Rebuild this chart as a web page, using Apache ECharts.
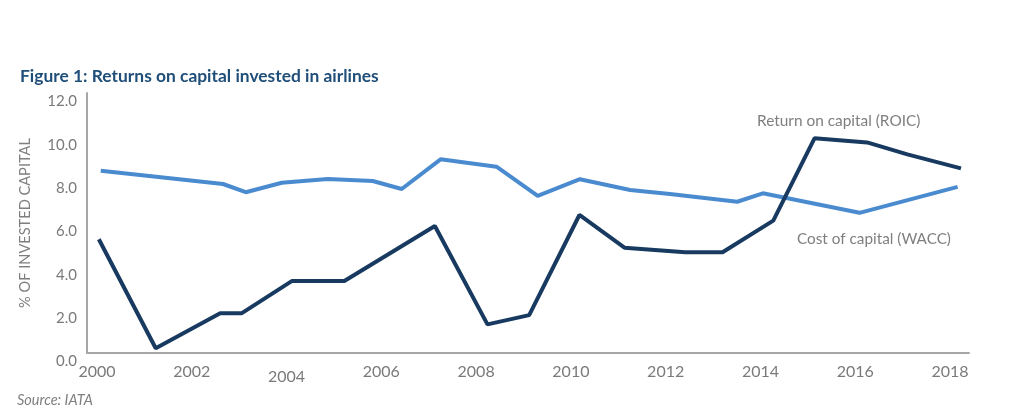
<!DOCTYPE html>
<html>
<head>
<meta charset="utf-8">
<script src="https://cdn.jsdelivr.net/npm/echarts@6/dist/echarts.min.js"></script>
<style>
  html, body { margin: 0; padding: 0; background: #fff; }
  #main { width: 1024px; height: 416px; }
</style>
</head>
<body>
<div id="main"></div>
<script>
// x positions are fractional years, as the lines are drawn between the labels
var waccYears = [2000.08, 2002.66, 2003.14, 2003.9, 2004.87, 2005.82, 2006.43, 2007.25, 2008.43, 2008.78, 2009.3, 2010.19, 2011.25, 2012.09, 2013.51, 2014.05, 2016.09, 2018.16];
var waccValues = [8.41, 7.8, 7.42, 7.86, 8.03, 7.94, 7.57, 8.94, 8.6, 8.06, 7.25, 8.02, 7.52, 7.34, 6.98, 7.37, 6.47, 7.67];

var roicYears = [2000.04, 2001.24, 2002.6, 2003.05, 2004.11, 2005.22, 2007.13, 2008.24, 2009.12, 2010.18, 2011.13, 2012.41, 2013.2, 2014.27, 2015.14, 2016.25, 2017.1, 2018.23];
var roicValues = [5.25, 0.22, 1.83, 1.83, 3.32, 3.32, 5.86, 1.32, 1.75, 6.37, 4.86, 4.65, 4.65, 6.11, 9.91, 9.72, 9.17, 8.52];

var yearTicks = [2000, 2002, 2004, 2006, 2008, 2010, 2012, 2014, 2016, 2018];

function pairs(xs, ys) {
    return xs.map(function (x, i) { return [x, ys[i]]; });
}

var grey = '#7f7f7f';
var labelGrey = '#7a7a7a';
var font = 'Lato';

var chart = echarts.init(document.getElementById('main'));
chart.setOption({
    animation: false,
    title: [
        {
            text: 'Figure 1: Returns on capital invested in airlines',
            left: 15, top: 63,
            textStyle: { color: '#1f4e79', fontFamily: font, fontWeight: 'bold', fontSize: 17.4 }
        },
        {
            text: 'Source: IATA',
            left: 12, top: 388,
            textStyle: { color: grey, fontFamily: font, fontStyle: 'italic', fontWeight: 'normal', fontSize: 14.5 }
        },
        {
            text: 'Return on capital (ROIC)',
            left: 752, top: 109,
            textStyle: { color: grey, fontFamily: font, fontWeight: 'normal', fontSize: 15.4 }
        },
        {
            text: 'Cost of capital (WACC)',
            left: 792, top: 227,
            textStyle: { color: grey, fontFamily: font, fontWeight: 'normal', fontSize: 15.3 }
        }
    ],
    grid: { left: 87, right: 55, top: 93, bottom: 63 },
    xAxis: {
        type: 'value',
        min: 1999.79,
        max: 2018.4,
        axisLine: { lineStyle: { color: '#a6a6a6', width: 2 } },
        axisTick: { show: false },
        splitLine: { show: false },
        axisLabel: {
            customValues: yearTicks,
            margin: 11,
            color: labelGrey,
            fontFamily: font,
            fontSize: 16,
            formatter: function (v) {
                // the 2004 label sits a little lower in the original
                return v === 2004 ? '{low|' + v + '}' : String(v);
            },
            rich: { low: { padding: [5, 0, 0, 0], fontFamily: font, fontSize: 16, color: labelGrey } }
        }
    },
    yAxis: {
        type: 'value',
        min: 0,
        max: 12,
        interval: 2,
        name: '% OF INVESTED CAPITAL',
        nameLocation: 'middle',
        nameRotate: 90,
        nameGap: 54,
        nameTextStyle: { color: grey, fontFamily: font, fontSize: 14.6 },
        axisLine: { show: true, lineStyle: { color: '#a6a6a6', width: 2 } },
        axisTick: { show: false },
        splitLine: { show: false },
        axisLabel: {
            margin: 10,
            formatter: function (v) { return '{v|' + v.toFixed(1) + '}'; },
            // labels sit slightly below their values in the original
            rich: { v: { padding: [17, 0, 0, 0], fontFamily: font, fontSize: 15, color: labelGrey } }
        }
    },
    series: [
        {
            name: 'Cost of capital (WACC)',
            type: 'line',
            data: pairs(waccYears, waccValues),
            showSymbol: false,
            lineStyle: { color: '#4a8bd0', width: 4 }
        },
        {
            name: 'Return on capital (ROIC)',
            type: 'line',
            data: pairs(roicYears, roicValues),
            showSymbol: false,
            lineStyle: { color: '#183a60', width: 4 }
        }
    ]
});
</script>
</body>
</html>
